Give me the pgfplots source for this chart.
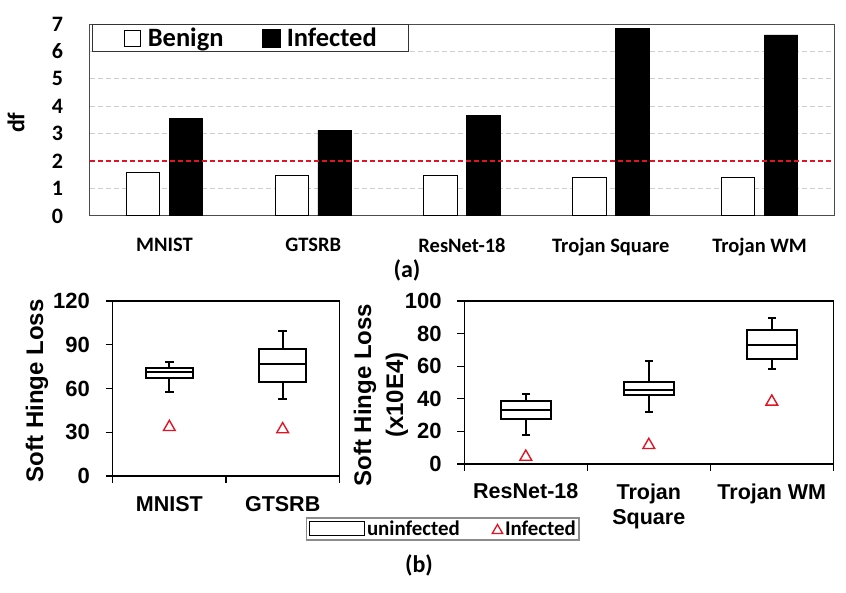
\documentclass[border=0pt]{standalone}
\usepackage{fontspec}
\setmainfont{Carlito}
\newfontfamily\arialf{Liberation Sans}
\usepackage{pgfplots}
\pgfplotsset{compat=1.18}
\usetikzlibrary{decorations.markings}
\definecolor{mred}{RGB}{225,20,35}
\definecolor{gridgray}{RGB}{205,205,205}
\newcommand{\fs}[2]{\fontsize{#1}{#2}\selectfont}
\pgfplotsset{
  boxline/.style={black, line width=2pt, line cap=rect, forget plot},
}
% dashes made of short solid strokes
\tikzset{
  reddash/.style={draw=none, postaction={decorate, decoration={markings,
    mark=between positions 0 and 1 step 8pt with {\draw[mred, line width=1.3pt] (0pt,0pt) -- (5pt,0pt);}}}},
}

\begin{document}
\begin{tikzpicture}
\path[use as bounding box] (0,0) rectangle (846pt,592pt);

% (a) bar chart
\begin{axis}[
  at={(90pt,376pt)}, anchor=south west,
  scale only axis, width=744pt, height=192pt,
  xmin=-0.5, xmax=4.5, ymin=0, ymax=7,
  xtick={0,...,4},
  xticklabels={MNIST,GTSRB,ResNet-18,Trojan Square,Trojan WM},
  ytick={0,...,7},
  minor ytick={1,3,4,5,6},
  yminorgrids,
  minor grid style={gridgray, line width=0.8pt, dash pattern=on 5pt off 3pt},
  major tick length=0pt, minor tick length=0pt,
  /pgf/number format/assume math mode=true,
  axis line style={black!70, line width=1pt},
  xticklabel style={font=\fs{20.5}{24}\bfseries, inner sep=0pt, anchor=north, yshift=-22pt},
  yticklabel style={font=\fs{22}{26}\bfseries, inner sep=0pt, anchor=east, xshift=-26.7pt},
  every axis y label/.style={at={(axis description cs:-0.0995,0.486)}, rotate=90, anchor=center, font=\fs{24}{28}\bfseries},
  ylabel={df},
  legend columns=2,
  legend style={at={(axis description cs:0.0023,1)}, anchor=north west,
    draw=black!80, line width=1pt, fill=white, inner xsep=32pt, inner ysep=3.5pt,
    font=\fs{26.5}{30}\bfseries, nodes={inner sep=0pt},
    /tikz/every odd column/.append style={column sep=6.7pt},
    /tikz/every even column/.append style={column sep=38pt}},
]
\addplot[ybar, bar width=0.225, bar shift=-0.144, fill=white, draw=black, line width=1pt,
  legend image code/.code={\draw[black, fill=white, line width=0.9pt] (0pt,-8pt) rectangle (16pt,8pt);}]
  coordinates {(0,1.58) (1,1.46) (2,1.49) (3,1.40) (4,1.40)};
\addlegendentry{Benign}
\addplot[ybar, bar width=0.225, bar shift=0.144, fill=black, draw=black, line width=0.6pt,
  legend image code/.code={\draw[black, fill=black] (0pt,-9pt) rectangle (18pt,9pt);}]
  coordinates {(0,3.56) (1,3.12) (2,3.68) (3,6.85) (4,6.60)};
\addlegendentry{Infected}
% threshold df = 2
\addplot[reddash] coordinates {(-0.5,2) (4.5,2)};
\end{axis}

% (b) left box plot
\begin{axis}[
  at={(112.7pt,116pt)}, anchor=south west,
  scale only axis, width=226.6pt, height=175pt,
  xmin=-0.5, xmax=1.5, ymin=0, ymax=120,
  unbounded coords=jump,
  xtick={-0.5,0.5,1.5}, xticklabels={},
  extra x ticks={0,1}, extra x tick labels={MNIST,GTSRB},
  extra x tick style={tick style={draw=none}},
  ytick={0,30,...,120},
  tick pos=left, tick align=outside,
  major tick length=7pt,
  tick style={black, line width=1.3pt},
  axis line style={black, line width=1.3pt},
  /pgf/number format/assume math mode=true,
  xticklabel style={font=\arialf\fs{21.5}{25}\bfseries, inner sep=0pt, anchor=north, yshift=-13pt},
  yticklabel style={font=\arialf\fs{22}{26}\bfseries, inner sep=0pt, anchor=east, xshift=-15.7pt},
  every axis y label/.style={at={(axis description cs:-0.334,0.487)}, rotate=90, anchor=center, font=\arialf\fs{24}{28}\bfseries},
  ylabel={Soft Hinge Loss},
]
% MNIST: whiskers 57.4 / 78.2, quartiles 67.2 / 74.1, median 71.1
\addplot[boxline] coordinates {(0,67.2) (0.205,67.2) (0.205,74.1) (-0.205,74.1) (-0.205,67.2) (0,67.2)};
\addplot[boxline] coordinates {(-0.205,71.1) (0.205,71.1)};
\addplot[boxline] coordinates {(0,74.1) (0,78.2) (0,nan) (-0.03,78.2) (0.03,78.2) (0,nan)
  (0,67.2) (0,57.4) (0,nan) (-0.03,57.4) (0.03,57.4)};
% GTSRB: whiskers 53.0 / 99.7, quartiles 64.7 / 87.3, median 77.0
\addplot[boxline] coordinates {(1,64.7) (1.205,64.7) (1.205,87.3) (0.795,87.3) (0.795,64.7) (1,64.7)};
\addplot[boxline] coordinates {(0.795,77.0) (1.205,77.0)};
\addplot[boxline] coordinates {(1,87.3) (1,99.7) (1,nan) (0.97,99.7) (1.03,99.7) (1,nan)
  (1,64.7) (1,53.0) (1,nan) (0.97,53.0) (1.03,53.0)};
\addplot[only marks, mark=triangle, mark size=6.8pt, mred, line width=1.4pt, forget plot]
  coordinates {(0,33.5) (1,32.0)};
\end{axis}

% (b) right box plot
\begin{axis}[
  at={(464.3pt,128pt)}, anchor=south west,
  scale only axis, width=369pt, height=163pt,
  xmin=-0.5, xmax=2.5, ymin=0, ymax=100,
  unbounded coords=jump,
  xtick={-0.5,0.5,1.5,2.5}, xticklabels={},
  extra x ticks={0,1,2}, extra x tick labels={ResNet-18,Trojan\\Square,Trojan WM},
  extra x tick style={tick style={draw=none}},
  ytick={0,20,...,100},
  tick pos=left, tick align=outside,
  major tick length=7pt,
  tick style={black, line width=1.3pt},
  axis line style={black, line width=1.3pt},
  /pgf/number format/assume math mode=true,
  xticklabel style={font=\arialf\fs{21.5}{25}\bfseries, align=center, inner sep=0pt, anchor=north, yshift=-12.5pt},
  yticklabel style={font=\arialf\fs{22}{26}\bfseries, inner sep=0pt, anchor=east, xshift=-15.6pt},
  every axis y label/.style={at={(axis description cs:-0.2257,0.423)}, rotate=90, anchor=center, align=center, font=\arialf\fs{24}{32}\bfseries},
  ylabel={Soft Hinge Loss\\(x10E4)},
  legend columns=2,
  legend style={at={(axis description cs:-0.4298,-0.327)}, anchor=north west,
    draw=black!45, line width=1.2pt, fill=white, inner xsep=3pt, inner ysep=3pt,
    font=\fs{20.9}{24}\bfseries, nodes={inner sep=0pt},
    /tikz/every odd column/.append style={column sep=1.7pt},
    /tikz/every even column/.append style={column sep=31.7pt}},
]
\addlegendimage{legend image code/.code={\draw[black, line width=1pt] (0pt,-7pt) rectangle (55pt,7pt);}}
\addlegendentry{uninfected}
\addlegendimage{legend image code/.code={\draw[mred, line width=1.3pt, line join=miter] (0.65pt,-4.5pt) -- (11.05pt,-4.5pt) -- (5.85pt,4.5pt) -- cycle;}}
\addlegendentry{Infected}
% ResNet-18: whiskers 18.0 / 42.7, quartiles 27.6 / 38.7, median 33.0
\addplot[boxline] coordinates {(0,27.6) (0.205,27.6) (0.205,38.7) (-0.205,38.7) (-0.205,27.6) (0,27.6)};
\addplot[boxline] coordinates {(-0.205,33.0) (0.205,33.0)};
\addplot[boxline] coordinates {(0,38.7) (0,42.7) (0,nan) (-0.025,42.7) (0.025,42.7) (0,nan)
  (0,27.6) (0,18.0) (0,nan) (-0.025,18.0) (0.025,18.0)};
% Trojan Square: whiskers 32.1 / 63.2, quartiles 42.3 / 50.5, median 45.6
\addplot[boxline] coordinates {(1,42.3) (1.205,42.3) (1.205,50.5) (0.795,50.5) (0.795,42.3) (1,42.3)};
\addplot[boxline] coordinates {(0.795,45.6) (1.205,45.6)};
\addplot[boxline] coordinates {(1,50.5) (1,63.2) (1,nan) (0.975,63.2) (1.025,63.2) (1,nan)
  (1,42.3) (1,32.1) (1,nan) (0.975,32.1) (1.025,32.1)};
% Trojan WM: whiskers 58.5 / 89.6, quartiles 64.6 / 82.4, median 72.8
\addplot[boxline] coordinates {(2,64.6) (2.205,64.6) (2.205,82.4) (1.795,82.4) (1.795,64.6) (2,64.6)};
\addplot[boxline] coordinates {(1.795,72.8) (2.205,72.8)};
\addplot[boxline] coordinates {(2,82.4) (2,89.6) (2,nan) (1.975,89.6) (2.025,89.6) (2,nan)
  (2,64.6) (2,58.5) (2,nan) (1.975,58.5) (2.025,58.5)};
\addplot[only marks, mark=triangle, mark size=6.8pt, mred, line width=1.4pt, forget plot]
  coordinates {(0,4.4) (1,11.6) (2,38.2)};
\end{axis}

\node[font=\fs{24}{28}\bfseries] at (407pt,322pt) {(a)};
\node[font=\fs{24}{28}\bfseries] at (419pt,27pt) {(b)};
\end{tikzpicture}
\end{document}
